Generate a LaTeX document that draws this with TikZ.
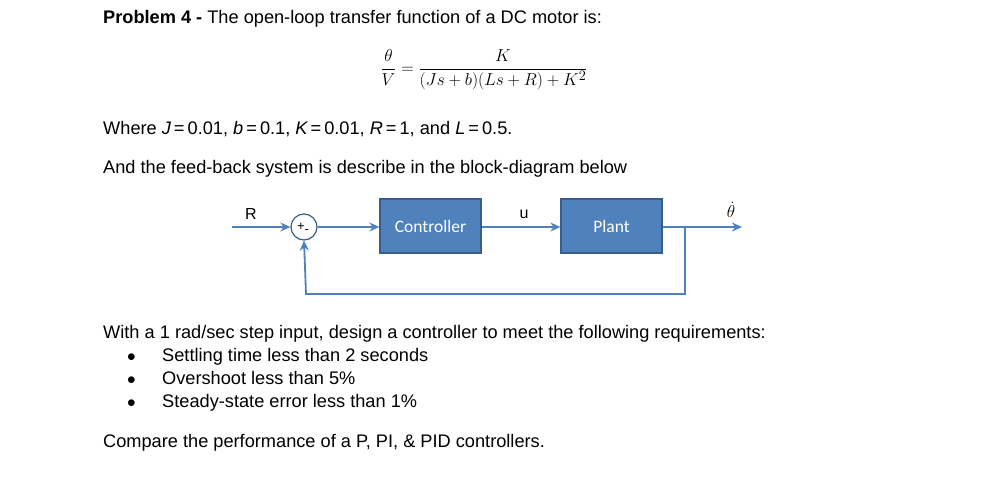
\documentclass[tikz,border=0pt]{standalone}
\usepackage{fontspec}
\usepackage{amsmath}
\setmainfont{Liberation Sans}
\newfontfamily\boxfont{Carlito}
\usetikzlibrary{arrows.meta}
\definecolor{blk}{HTML}{4F81BD}
\definecolor{blkedge}{HTML}{385D8A}
\begin{document}
\begin{tikzpicture}[x=1pt,y=-1pt,
  txt/.style={anchor=base west,inner sep=0,font=\fontsize{18.2}{20}\selectfont},
  box/.style={draw=blkedge,fill=blk,line width=1.2pt,minimum width=101pt,minimum height=54pt,inner sep=0,text=white,font=\boxfont\fontsize{17.5}{19}\selectfont},
  lab/.style={inner sep=0,font=\fontsize{16}{18}\selectfont},
  wire/.style={draw=blk,line width=1.8pt},
  arr/.style={wire,-{Stealth[length=10pt,width=9pt]}}]
\useasboundingbox (0,0) rectangle (982,503);
\node[txt] (t1) at (103,24) {\textbf{Problem 4 -} The open-loop transfer function of a DC motor is:};
\node[inner sep=0,font=\fontsize{19}{22}\selectfont] (eq) at (484,70) {$\dfrac{\theta}{V}=\dfrac{K}{(Js+b)(Ls+R)+K^2}$};
\node[txt] (t2) at (103,134) {Where $\mathit{J}$\,=\,0.01, $\mathit{b}$\,=\,0.1, $\mathit{K}$\,=\,0.01, $\mathit{R}$\,=\,1, and $\mathit{L}$\,=\,0.5.};
\node[txt] (t3) at (103,173) {And the feed-back system is describe in the block-diagram below};
% block diagram
\coordinate (in) at (232,227);
\node[circle,draw=blkedge,line width=1.2pt,minimum size=26pt,inner sep=0,fill=white] (sum) at (304,227) {};
\node[lab,font=\fontsize{13}{14}\selectfont] (pm) at (303,228) {+\raisebox{-3pt}{-}};
\node[box] (ctl) at (430.5,226) {Controller};
\node[box] (pl) at (611.5,226) {Plant};
\coordinate (br) at (685,227);
\coordinate (out) at (742,227);
\coordinate (c1) at (685,294);
\coordinate (c2) at (306,294);
\node[lab] (R) at (251,214) {R};
\node[lab] (u) at (524,214) {u};
\node[lab,font=\fontsize{17}{18}\selectfont] (th) at (731,210) {$\dot{\theta}$};
\draw[arr] (in) -- (sum.west);
\draw[arr] (sum.east) -- (ctl.west |- sum.east);
\draw[arr] (ctl.east |- 0,227) -- (pl.west |- 0,227);
\draw[arr] (pl.east |- 0,227) -- (out);
\draw[arr] (br) -- (c1) -- (c2) -- (sum.south);
% requirements
\node[txt] (t4) at (103,338) {With a 1 rad/sec step input, design a controller to meet the following requirements:};
\node[txt] (b1) at (162,361) {Settling time less than 2 seconds};
\node[txt] (b2) at (162,384) {Overshoot less than 5\%};
\node[txt] (b3) at (162,407) {Steady-state error less than 1\%};
\node[txt] (d1) at (127,361) {$\bullet$};
\node[txt] (d2) at (127,384) {$\bullet$};
\node[txt] (d3) at (127,407) {$\bullet$};
\node[txt] (t5) at (103,447) {Compare the performance of a P, PI, \& PID controllers.};
\end{tikzpicture}
\end{document}
